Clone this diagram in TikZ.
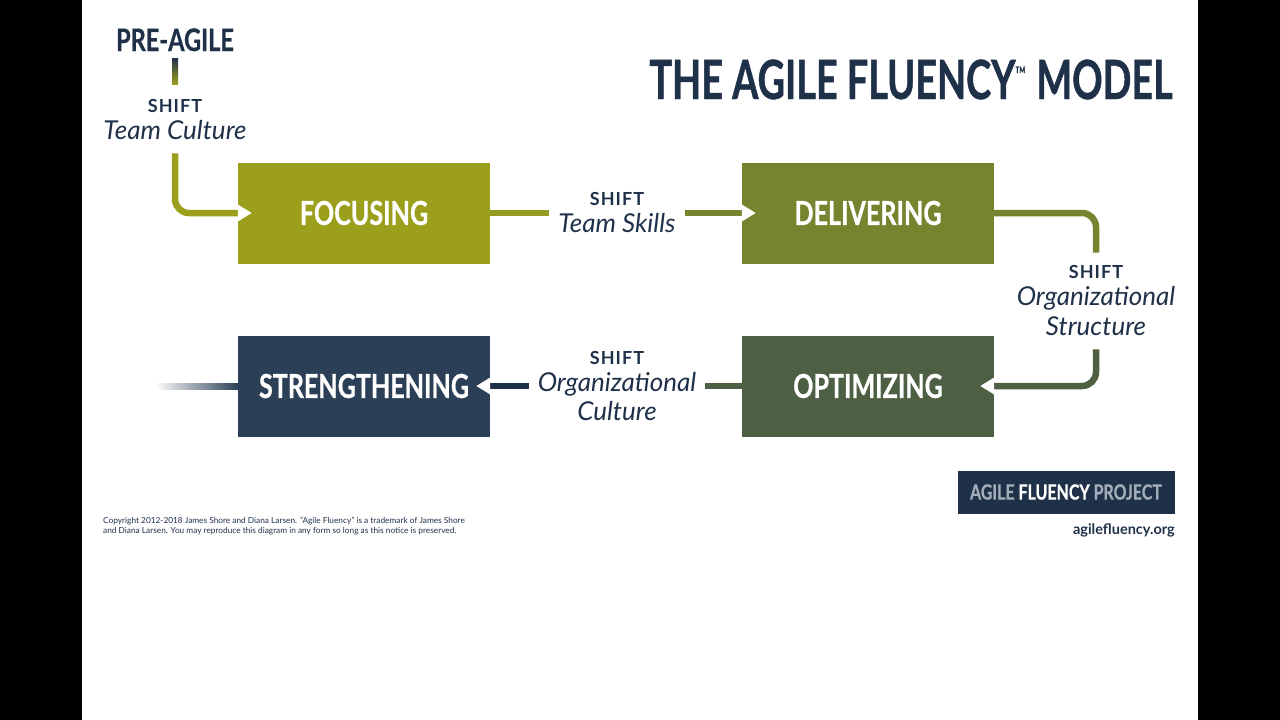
\documentclass[tikz,border=0pt]{standalone}
\usepackage{fontspec}
\setmainfont{Lato}
\newfontfamily\condfont[FakeStretch=0.76,FakeBold=0.6]{Lato}
\newfontfamily\titlefont[FakeStretch=0.70,FakeBold=0.8]{Lato}
\newfontfamily\spacedfont[LetterSpace=6]{Lato}
\usetikzlibrary{arrows.meta,positioning}

\definecolor{navy}{HTML}{1F3049}
\definecolor{focuscol}{HTML}{9B9F1C}
\definecolor{delivcol}{HTML}{76842F}
\definecolor{optimcol}{HTML}{4D6044}
\definecolor{strengcol}{HTML}{2B4057}
\definecolor{greytext}{HTML}{A3ADB9}

\newcommand{\shiftword}{{\spacedfont\bfseries\upshape\fontsize{18}{18}\selectfont SHIFT}}

\begin{document}
\begin{tikzpicture}[x=1pt,y=-1pt]
    \tikzset{
      stage/.style={fill=#1, text=white, minimum width=252pt, minimum height=101pt,
        inner sep=0pt, font=\condfont\bfseries\fontsize{33}{33}\selectfont},
      shiftlabel/.style={text=navy, align=center, inner xsep=9pt, inner ysep=13pt,
        font=\itshape\fontsize{26}{27}\selectfont},
      flow/.style={line width=6.5pt, rounded corners=14pt},
      notch/.style={-{Triangle[white,length=14pt,width=16pt]}, shorten >=-14pt}
    }
    \useasboundingbox (0,0) rectangle (1280,720);
    \fill[black] (0,0) rectangle (82,720);
    \fill[black] (1198,0) rectangle (1280,720);

    % title
    \node[anchor=base east, text=navy, inner sep=0pt,
      font=\titlefont\bfseries\fontsize{54}{54}\selectfont] (title) at (1173,99)
      {THE AGILE FLUENCY\raisebox{26pt}{\fontsize{9}{9}\selectfont TM}\hspace{2pt} MODEL};

    % stages
    \node[stage=focuscol] (focusing) at (364,213) {FOCUSING};
    \node[stage=delivcol] (delivering) at (868,213) {DELIVERING};
    \node[stage=optimcol] (optimizing) at (868,386) {OPTIMIZING};
    \node[stage=strengcol] (strengthening) at (364,386) {STRENGTHENING};

    % pre-agile
    \node[anchor=base, text=navy, inner sep=0pt,
      font=\condfont\bfseries\fontsize{31}{31}\selectfont] (preagile) at (175,51) {PRE-AGILE};
    \shade[top color=navy, bottom color=focuscol] (172,58) rectangle (178,84);

    % shifts
    \node[shiftlabel] (culture) at (175,120) {\shiftword\\Team Culture};
    \node[shiftlabel] (skills) at (617,213) {\shiftword\\Team Skills};
    \node[shiftlabel, font=\itshape\fontsize{26}{30}\selectfont] (structure) at (1096,301)
      {\shiftword\\[-3pt]Organizational\\Structure};
    \node[shiftlabel, font=\itshape\fontsize{26}{29}\selectfont] (orgculture) at (617,386)
      {\shiftword\\[-2pt]Organizational\\Culture};

    % connectors
    \draw[flow, focuscol, notch] (culture.south) |- (focusing.west);
    \draw[flow, focuscol!85!delivcol] (focusing.east) -- (skills.west);
    \draw[flow, delivcol, notch] (skills.east) -- (delivering.west);
    \draw[flow, delivcol] (delivering.east) -| (structure.north);
    \draw[flow, optimcol, notch] (structure.south) |- (optimizing.east);
    \draw[flow, optimcol] (optimizing.west) -- (orgculture.east);
    \draw[flow, navy, notch] (orgculture.west) -- (strengthening.east);
    \shade[left color=white, right color=strengcol] (155,383) rectangle (238,389);

    % project badge
    \node[fill=navy, minimum width=217pt, minimum height=43pt, inner sep=0pt,
      font=\condfont\bfseries\fontsize{21}{21}\selectfont] (project) at (1066,492)
      {\textcolor{greytext}{AGILE} \textcolor{white}{FLUENCY} \textcolor{greytext}{PROJECT}};
    \node[anchor=base east, inner sep=0pt, text=navy, font=\bfseries\fontsize{14.5}{14.5}\selectfont]
      (site) at (1175,534) {agilefluency.org};

    % notice
    \node[anchor=north west, align=left, inner sep=0pt, text=navy,
      font=\fontsize{8.3}{10}\selectfont] (notice) at (103,517)
      {Copyright 2012-2018 James Shore and Diana Larsen. "Agile Fluency" is a trademark of James Shore\\
       and Diana Larsen. You may reproduce this diagram in any form so long as this notice is preserved.};
\end{tikzpicture}
\end{document}
